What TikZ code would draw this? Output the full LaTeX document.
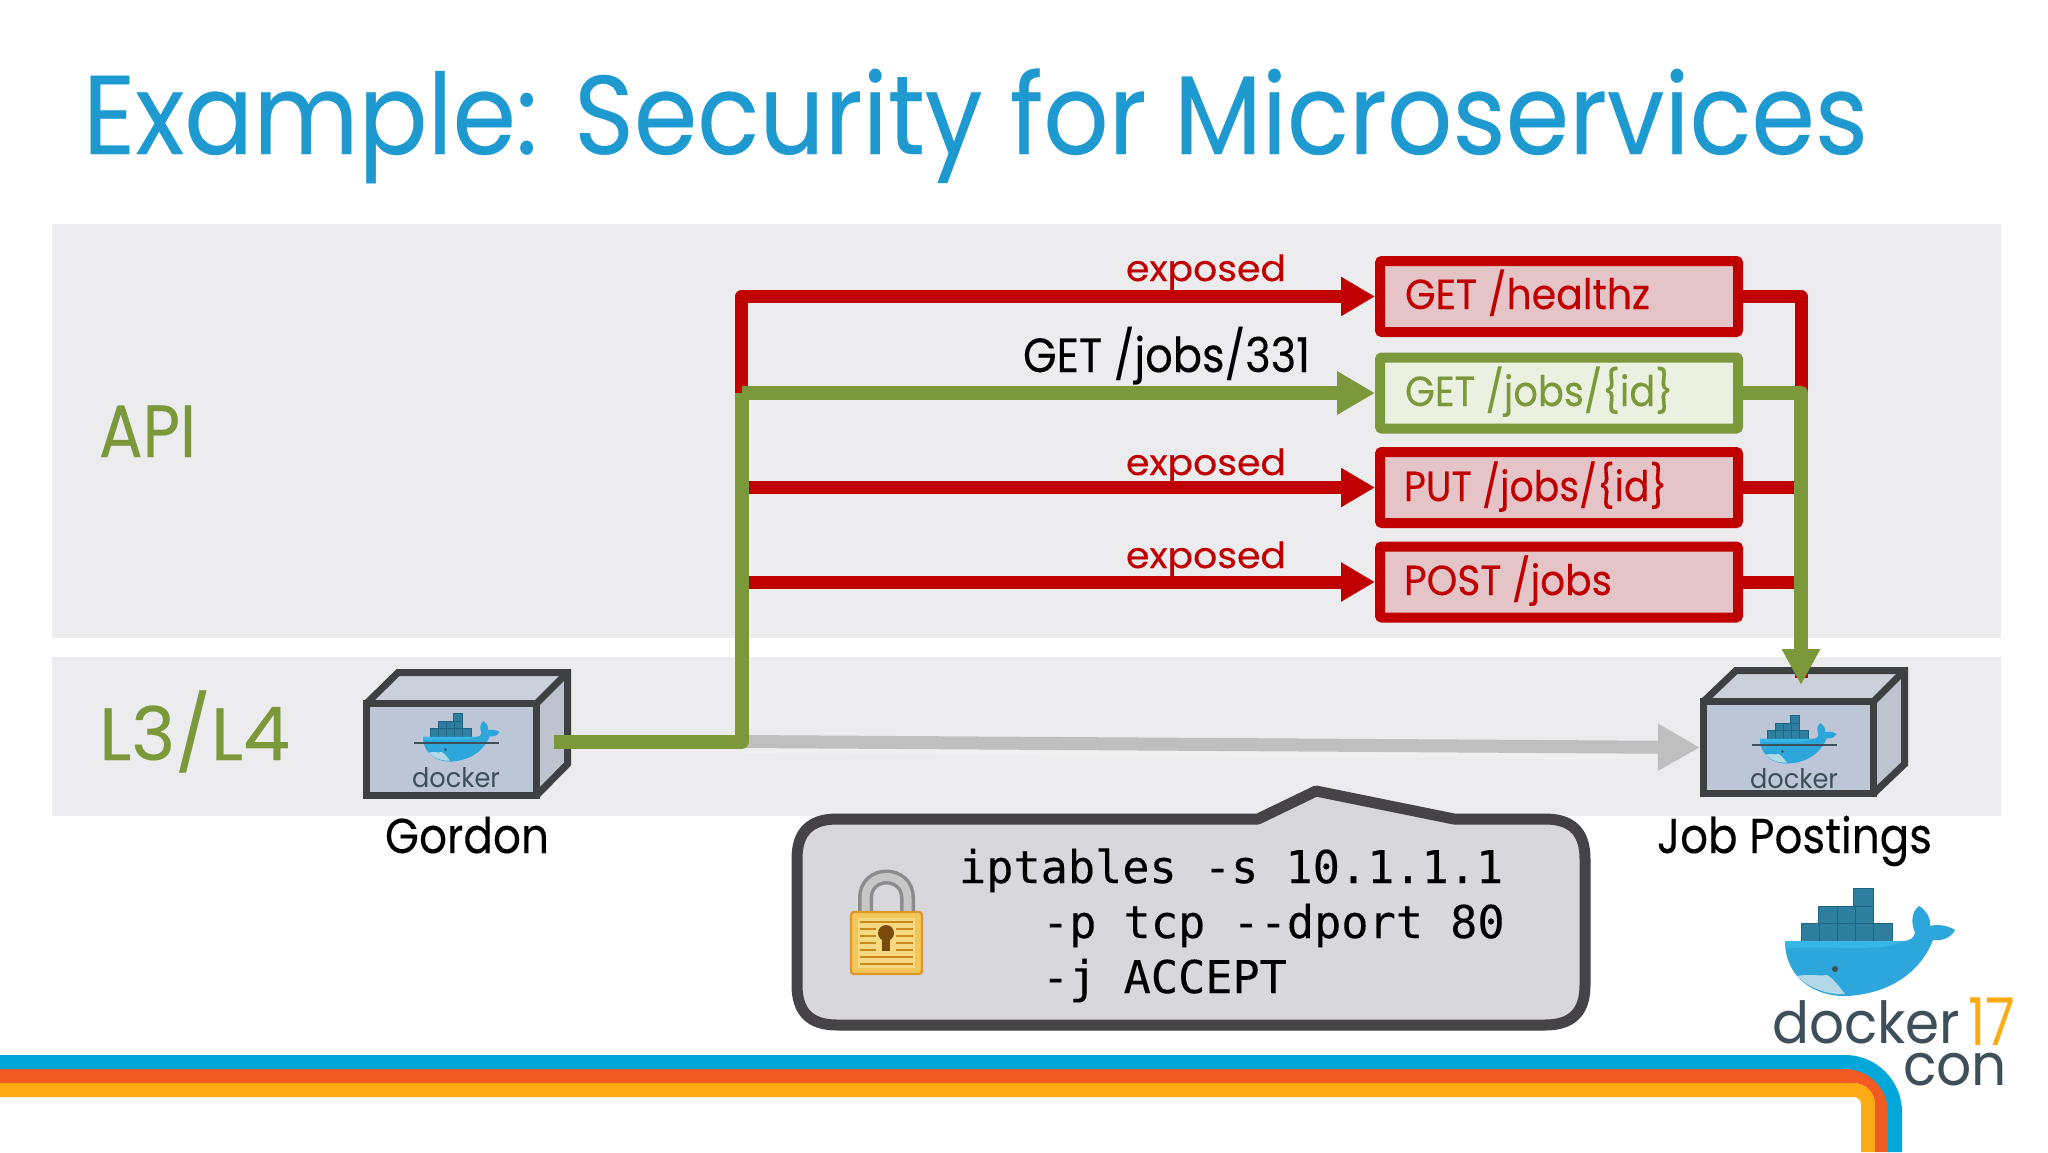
\documentclass[tikz,border=0pt]{standalone}
\usepackage{graphicx}
\usepackage{fontspec}
\setmainfont{Poppins}[FakeBold=0.25]
\newfontfamily\monof{DejaVu Sans Mono}[FakeBold=0.2]
\newfontfamily\logof{Poppins}
\usetikzlibrary{arrows.meta,calc}
\definecolor{band}{HTML}{ECEBEE}
\definecolor{rd}{HTML}{C00000}
\definecolor{gr}{HTML}{7B983A}
\definecolor{rfill}{HTML}{E5C4C8}
\definecolor{gfill}{HTML}{EAF1E0}
\definecolor{ttl}{HTML}{1E9AD1}
\definecolor{edge}{HTML}{3F4042}
\definecolor{ffront}{HTML}{BDC6D6}
\definecolor{ftop}{HTML}{CBD0DB}
\definecolor{fside}{HTML}{BEC3CF}
\definecolor{dk}{HTML}{3D4F58}
\definecolor{cont}{HTML}{2E7F9F}
\definecolor{contl}{HTML}{1F6480}
\definecolor{wh}{HTML}{2CA6DB}
\definecolor{whl}{HTML}{38B6E8}
\definecolor{belly}{HTML}{B4D9E6}
\definecolor{callf}{HTML}{D8D7DB}
\definecolor{calld}{HTML}{454347}
\definecolor{sblue}{HTML}{00A7D8}
\definecolor{sor}{HTML}{F15A22}
\definecolor{syel}{HTML}{FDAB15}
\definecolor{grey}{HTML}{BFBFBF}
\definecolor{lockf}{HTML}{F3C659}
\definecolor{lockd}{HTML}{DD9A2B}
\definecolor{lockl}{HTML}{C98A1C}
\definecolor{lockp}{HTML}{F6D981}
\definecolor{lockk}{HTML}{7A4A0A}
\newlength\pxu \setlength\pxu{0.5pt}
\newcommand\fw[2]{\resizebox{#1\pxu}{\height}{#2}}
\newcommand\fsz[1]{\fontsize{#1}{#1}\selectfont}
\tikzset{
  txt/.style={inner sep=0pt,outer sep=0pt,anchor=base west},
  rbox/.style={draw=rd,fill=rfill,line width=5pt,minimum width=179pt,minimum height=35.5pt,rounded corners=1pt,inner sep=0pt},
  gbox/.style={rbox,draw=gr,fill=gfill},
  front/.style={draw=edge,fill=ffront,line width=3.5pt,minimum width=85pt,minimum height=46pt,inner sep=0pt,line join=miter},
  boxp/.style={draw=edge,line width=3.5pt,line join=miter},
  redl/.style={draw=rd,line width=6.5pt,line join=round},
  grnl/.style={draw=gr,line width=7pt,line join=round},
  rtip/.style={-{Triangle[length=17pt,width=18.5pt]}},
  gtip/.style={-{Triangle[length=19pt,width=20.5pt]}},
  dtip/.style={-{Triangle[length=18pt,width=18pt]}},
}
\newcommand\whale[3]{%
\begin{scope}[shift={(#1,#2)},scale=#3]
  \foreach \a/\b/\c/\d in {68/0/88/18,33/18/52/35,52/18/70/35,70/18/88/35,16/35/34/53,34/35/52/53,52/35/70/53,70/35/88/53,88/35/107/53}
    \draw[fill=cont,draw=contl,line width=.3pt] (\a,\b) rectangle (\c,\d);
  \fill[wh] (0,53) -- (118,53) .. controls (124,53) and (129,50) .. (130,45)
     .. controls (126,35) and (126,24) .. (134,18) .. controls (141,22) and (146,30) .. (145,38)
     .. controls (152,36) and (162,37) .. (170,42) .. controls (166,50) and (157,53) .. (148,52)
     .. controls (138,78) and (112,105) .. (62,108)
     .. controls (30,109) and (0,90) .. (0,53) -- cycle;
  \fill[whl] (0,53) -- (118,53) .. controls (100,64) and (60,58) .. (0,60) -- cycle;
  \fill[belly] (12,88) .. controls (22,86) and (34,88) .. (42,87) .. controls (50,92) and (55,100) .. (60,106) .. controls (42,107) and (24,100) .. (12,88) -- cycle;
  \fill[dk] (50,81) circle[radius=3];
\end{scope}}
\begin{document}
\begin{tikzpicture}[x=0.5pt,y=-0.5pt]
\useasboundingbox (0,0) rectangle (2048,1152);
% bands
\fill[band] (52,224) rectangle (2001,638);
\fill[band] (52,657) rectangle (2001,816);
% title
\node[txt,text=ttl,font=\fsz{56}] (title) at (83,154) {\fw{1785}{Example: Security for Microservices}};
\node[txt,text=gr,font=\fsz{37}] (api) at (99,457) {\fw{97}{API}};
\node[txt,text=gr,font=\fsz{37}] (l34) at (99,760) {\fw{191}{L3/L4}};
% docker boxes
\fill[ftop] (366.5,703.5) -- (398,672.5) -- (567.5,672.5) -- (536.5,703.5) -- cycle;
\fill[fside] (536.5,703.5) -- (567.5,672.5) -- (567.5,764) -- (536.5,795.5) -- cycle;
\draw[boxp] (366.5,703.5) -- (398,672.5) -- (567.5,672.5) -- (567.5,764) -- (536.5,795.5);
\draw[boxp] (536.5,703.5) -- (567.5,672.5);
\node[front] (gordon) at (451.5,749.5) {};
\fill[ftop] (1703.5,701.5) -- (1736,670.5) -- (1904.5,670.5) -- (1873.5,701.5) -- cycle;
\fill[fside] (1873.5,701.5) -- (1904.5,670.5) -- (1904.5,764) -- (1873.5,793.5) -- cycle;
\draw[boxp] (1703.5,701.5) -- (1736,670.5) -- (1904.5,670.5) -- (1904.5,764) -- (1873.5,793.5);
\draw[boxp] (1873.5,701.5) -- (1904.5,670.5);
\node[front] (jobs) at (1788.5,747.5) {};
\whale{423}{713}{0.45}
\draw[dk,line width=.6pt] (414,743) -- (499,743);
\node[txt,text=dk,font=\logof\fsz{13.5}] (dk1) at (412,787) {\fw{88}{docker}};
\whale{1760}{715}{0.45}
\draw[dk,line width=.6pt] (1752,745) -- (1837,745);
\node[txt,text=dk,font=\logof\fsz{13.5}] (dk2) at (1750,788) {\fw{88}{docker}};
% route boxes
\node[rbox] (b1) at (1559,296.5) {};
\node[gbox] (b2) at (1559,393) {};
\node[rbox] (b3) at (1559,487.5) {};
\node[rbox] (b4) at (1559,582) {};
\node[txt,text=rd,font=\fsz{21}] (t1) at (1405,309) {\fw{245}{GET /healthz}};
\node[txt,text=gr,font=\fsz{21}] (t2) at (1405,406) {\fw{268}{GET /jobs/\{id\}}};
\node[txt,text=rd,font=\fsz{21}] (t3) at (1404,501) {\fw{263}{PUT /jobs/\{id\}}};
\node[txt,text=rd,font=\fsz{21}] (t4) at (1404,595) {\fw{208}{POST /jobs}};
% junctions
\coordinate (ja) at (741.5,296.5);
\coordinate (jb) at (741.5,393);
\coordinate (jc) at (741.5,487.5);
\coordinate (jd) at (741.5,582);
\coordinate (je) at (741.5,741.5);
\coordinate (gs) at (554,741.5);
\coordinate (rv) at (1801,678);
\coordinate (tip) at (1801,685);
% grey allowed path
\draw[draw=black!6,line width=8pt] ($(je)+(0,4)$) -- ($(jobs.west)+(-40,4)$);
\draw[draw=grey,line width=6.5pt,-{Triangle[length=21pt,width=22pt]}] (je) -- (jobs.west);
% red
\draw[redl,rtip] (je) -- (ja) -- (b1.west);
\draw[redl,rtip] (jc) -- (b3.west);
\draw[redl,rtip] (jd) -- (b4.west);
\draw[redl] (b1.east) -| (rv);
\draw[redl] (b3.east) -- (b3.east -| rv);
\draw[redl] (b4.east) -- (b4.east -| rv);
% green
\draw[grnl] (gs) -- (je) -- (jb);
\draw[grnl,gtip] (jb) -- (b2.west);
\draw[grnl,dtip] (b2.east) -| (tip);
% labels
\node[txt,text=rd,font=\fsz{18}] (e1) at (1126,281) {\fw{160}{exposed}};
\node[txt,text=rd,font=\fsz{18}] (e3) at (1126,475) {\fw{160}{exposed}};
\node[txt,text=rd,font=\fsz{18}] (e4) at (1126,568) {\fw{160}{exposed}};
\node[txt,font=\fsz{24}] (req) at (1023,372) {\fw{287}{GET /jobs/331}};
\node[txt,font=\fsz{24.5}] (ngordon) at (385,853) {\fw{164}{Gordon}};
\node[txt,font=\fsz{24.5}] (njob) at (1657,853) {\fw{275}{Job Postings}};
% callout
\draw[fill=callf,draw=calld,line width=5.5pt,line join=round] (1258,819) -- (1316,791) -- (1454,819) -- (1545,819) .. controls (1572,819) and (1585,832) .. (1585,859) -- (1585,985) .. controls (1585,1012) and (1572,1025) .. (1545,1025) -- (837,1025) .. controls (810,1025) and (797,1012) .. (797,985) -- (797,859) .. controls (797,832) and (810,819) .. (837,819) -- cycle;
\node[txt,font=\monof\fsz{22.6}] (c1) at (959,883) {iptables -s 10.1.1.1};
\node[txt,font=\monof\fsz{22.6}] (c2) at (1042,938) {-p tcp --dport 80};
\node[txt,font=\monof\fsz{22.6}] (c3) at (1042,993) {-j ACCEPT};
% lock
\draw[draw=black!45,line width=7.5pt] (865.5,912) -- (865.5,898) .. controls (865.5,870) and (907.5,870) .. (907.5,898) -- (907.5,912);
\draw[draw=black!22,line width=4pt] (865.5,912) -- (865.5,898) .. controls (865.5,870) and (907.5,870) .. (907.5,898) -- (907.5,912);
\draw[fill=lockf,draw=lockd,line width=1.2pt,rounded corners=1.5pt] (851,912) rectangle (922,974);
\fill[lockp] (858,918) rectangle (915,968);
\foreach \yy in {922,929,936,943,950,957,964}
  \draw[draw=lockl,line width=1.2pt] (860,\yy) -- (913,\yy);
\fill[lockp] (876,924) rectangle (896,954);
\fill[lockk] (886,933) circle[radius=8];
\fill[lockk] (882,935) rectangle (890,951);
% logo
\whale{1785}{888}{1}
\node[txt,text=dk,font=\logof\fsz{29}] (lg1) at (1772,1043) {\fw{188}{docker}};
\node[txt,text=syel,font=\logof\fsz{33}] (lg2) at (1968,1045) {\fw{47}{17}};
\node[txt,text=dk,font=\logof\fsz{29}] (lg3) at (1903,1085) {\fw{104}{con}};
% stripes
\draw[draw=syel,line width=7pt,rounded corners=7pt] (0,1090) -- (1868,1090) -- (1868,1152);
\draw[draw=sor,line width=7pt,rounded corners=14pt] (0,1076) -- (1882,1076) -- (1882,1152);
\draw[draw=sblue,line width=7pt,rounded corners=25pt] (0,1062) -- (1895,1062) -- (1895,1152);
\end{tikzpicture}
\end{document}
